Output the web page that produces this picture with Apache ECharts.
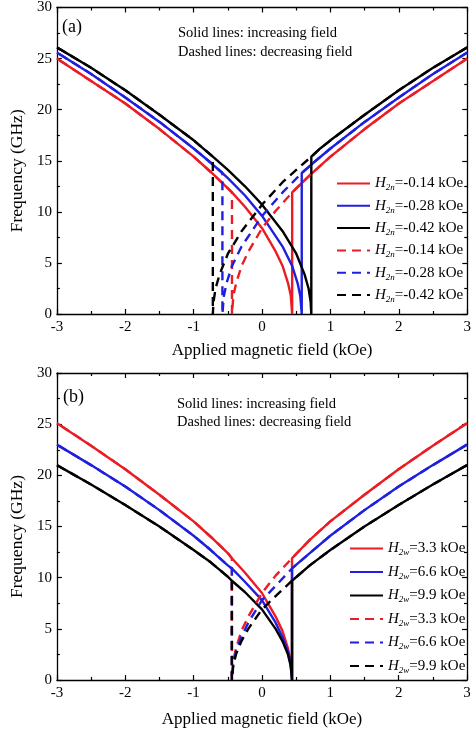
<!DOCTYPE html>
<html lang="en">
<head>
<meta charset="UTF-8">
<title>Frequency vs applied field</title>
<script src="https://cdn.jsdelivr.net/npm/echarts@6/dist/echarts.min.js"></script>
<style>html, body { margin: 0; padding: 0; background: #fff; }</style>
</head>
<body>
<div id="main" style="width:474px;height:730px;"></div>
<script type="text/javascript">
// axis ranges (kOe / GHz)
const fieldRange = [-3, 3];
const fieldStep = 1;
const freqRange = [0, 30];
const freqStep = 5;

// legend values
const labelsA = ['-0.14', '-0.28', '-0.42']; // H2n, kOe
const labelsB = ['3.3', '6.6', '9.9'];       // H2w, kOe
const switchA = [0.44, 0.58, 0.72];          // switching field of each curve, panel (a)
const switchB = [0.44, 0.44, 0.44];          // panel (b)

// panel (a) - "left" branch falls to 0 at +Hsw, "right" branch falls to 0 at -Hsw
const a1LeftH = [-3, -2.5, -2, -1.5, -1, -0.75, -0.5, -0.44, -0.25, 0, 0.2, 0.3, 0.38, 0.42, 0.44];
const a1LeftF = [25.0, 22.8, 20.6, 18.1, 15.4, 13.9, 12.3, 11.9, 10.5, 8.4, 6.1, 4.7, 3.0, 1.8, 0];
const a1RightH = [-0.44, -0.42, -0.38, -0.3, -0.2, 0, 0.2, 0.44, 0.7, 1, 1.5, 2, 2.5, 3];
const a1RightF = [0, 1.8, 3.0, 4.7, 6.1, 8.4, 10.1, 11.9, 13.6, 15.4, 18.1, 20.6, 22.8, 25.0];

const a2LeftH = [-3, -2.5, -2, -1.5, -1, -0.75, -0.58, -0.5, -0.25, 0, 0.3, 0.44, 0.52, 0.56, 0.58];
const a2LeftF = [25.6, 23.5, 21.2, 18.8, 16.2, 14.8, 13.8, 13.3, 11.6, 9.6, 6.6, 4.7, 3.0, 1.7, 0];
const a2RightH = [-0.58, -0.56, -0.52, -0.44, -0.3, 0, 0.3, 0.58, 0.75, 1, 1.5, 2, 2.5, 3];
const a2RightF = [0, 1.7, 3.0, 4.7, 6.6, 9.6, 11.9, 13.8, 14.8, 16.2, 18.8, 21.2, 23.5, 25.6];

const a3LeftH = [-3, -2.5, -2, -1.5, -1, -0.72, -0.5, -0.25, 0, 0.3, 0.5, 0.62, 0.68, 0.71, 0.72];
const a3LeftF = [26.1, 24.1, 21.9, 19.5, 17.0, 15.4, 14.1, 12.5, 10.7, 8.1, 5.9, 3.9, 2.5, 1.2, 0];
const a3RightH = [-0.72, -0.71, -0.68, -0.62, -0.5, -0.3, 0, 0.3, 0.5, 0.72, 0.85, 1, 1.5, 2, 2.5, 3];
const a3RightF = [0, 1.2, 2.5, 3.9, 5.9, 8.1, 10.7, 12.9, 14.1, 15.4, 16.2, 17.0, 19.5, 21.9, 24.1, 26.1];

// panel (b) - all three switch at the same field
const bLeftH = [-3, -2.5, -2, -1.5, -1, -0.75, -0.5, -0.44, -0.25, 0, 0.2, 0.3, 0.38, 0.42, 0.44];
const bRightH = [-0.44, -0.42, -0.38, -0.3, -0.2, 0, 0.2, 0.44, 0.7, 1, 1.5, 2, 2.5, 3];
const b1LeftF = [25.1, 22.9, 20.6, 18.1, 15.5, 14.0, 12.4, 11.9, 10.5, 8.5, 6.2, 4.8, 3.1, 1.8, 0];
const b1RightF = [0, 1.8, 3.1, 4.8, 6.2, 8.5, 10.2, 11.9, 13.7, 15.5, 18.1, 20.6, 22.9, 25.1];
const b2LeftF = [23.0, 21.0, 18.9, 16.6, 14.1, 12.7, 11.2, 10.9, 9.6, 7.8, 5.6, 4.2, 2.8, 1.6, 0];
const b2RightF = [0, 1.6, 2.8, 4.2, 5.6, 7.8, 9.2, 10.9, 12.4, 14.1, 16.6, 18.9, 21.0, 23.0];
const b3LeftF = [21.0, 19.1, 17.1, 15.0, 12.7, 11.5, 10.1, 9.7, 8.6, 6.9, 5.0, 3.8, 2.5, 1.4, 0];
const b3RightF = [0, 1.4, 2.5, 3.8, 5.0, 6.9, 8.2, 9.7, 11.2, 12.7, 15.0, 17.1, 19.1, 21.0];

const colors = ['#ec1c24', '#1f1fe0', '#000000'];
const font = 'Liberation Serif';

function pairs(h, f) { return h.map((x, i) => [x, f[i]]); }
// increasing field: left branch up to Hsw, jump, then right branch
function sweepUp(lh, lf, rh, rf, hs) {
    return pairs(lh, lf).filter(p => p[0] <= hs)
        .concat(pairs(rh, rf).filter(p => p[0] >= hs));
}
// decreasing field: right branch down to -Hsw, jump, then left branch
function sweepDown(lh, lf, rh, rf, hs) {
    return pairs(rh, rf).filter(p => p[0] >= -hs).reverse()
        .concat(pairs(lh, lf).filter(p => p[0] <= -hs).reverse());
}

const curvesA = [
    [a1LeftH, a1LeftF, a1RightH, a1RightF],
    [a2LeftH, a2LeftF, a2RightH, a2RightF],
    [a3LeftH, a3LeftF, a3RightH, a3RightF]];
const curvesB = [
    [bLeftH, b1LeftF, bRightH, b1RightF],
    [bLeftH, b2LeftF, bRightH, b2RightF],
    [bLeftH, b3LeftF, bRightH, b3RightF]];

const series = [];
const legendNames = {};
function addPanel(tag, curves, sw, labels, sub, idx) {
    const names = [];
    ['s', 'd'].forEach(kind => {
        curves.forEach((c, i) => {
            const name = tag + i + kind;
            const data = kind === 's' ? sweepUp(c[0], c[1], c[2], c[3], sw[i])
                                      : sweepDown(c[0], c[1], c[2], c[3], sw[i]);
            series.push({
                name: name, type: 'line', data: data,
                xAxisIndex: idx * 2, yAxisIndex: idx * 2,
                symbol: 'none', showSymbol: false, animation: false,
                lineStyle: { color: colors[i], width: 2.4, type: kind === 's' ? 'solid' : [9, 6] },
                itemStyle: { color: colors[i] }
            });
            legendNames[name] = '{i|H}{s|' + sub + '}{t|=' + labels[i] + ' kOe}';
            names.push(name);
        });
    });
    return names;
}
const namesA = addPanel('A', curvesA, switchA, labelsA, '2n', 0);
const namesB = addPanel('B', curvesB, switchB, labelsB, '2w', 1);

const tickStyle = { color: '#000', width: 1.2 };
function xAxis(grid, pos, namePad, gap) {
    return {
        type: 'value', gridIndex: grid, position: pos,
        min: fieldRange[0], max: fieldRange[1], interval: fieldStep,
        name: pos === 'bottom' ? 'Applied magnetic field (kOe)' : '',
        nameLocation: 'middle', nameGap: gap,
        nameTextStyle: { fontFamily: font, fontSize: 17, color: '#000', padding: namePad },
        axisLine: { onZero: false, lineStyle: { color: '#000', width: 1.3 } },
        axisTick: { inside: true, length: 5, lineStyle: tickStyle },
        minorTick: { show: true, splitNumber: 2, length: 3, lineStyle: tickStyle },
        splitLine: { show: false },
        axisLabel: { show: pos === 'bottom', margin: 6, fontFamily: font, fontSize: 15, color: '#000' }
    };
}
function yAxis(grid, pos) {
    return {
        type: 'value', gridIndex: grid, position: pos,
        min: freqRange[0], max: freqRange[1], interval: freqStep,
        name: pos === 'left' ? 'Frequency (GHz)' : '',
        nameLocation: 'middle', nameGap: 28,
        nameTextStyle: { fontFamily: font, fontSize: 17.5, color: '#000', padding: [0, 20, 0, 0] },
        axisLine: { onZero: false, lineStyle: { color: '#000', width: 1.3 } },
        axisTick: { inside: true, length: 5, lineStyle: tickStyle },
        minorTick: { show: true, splitNumber: 2, length: 3, lineStyle: tickStyle },
        splitLine: { show: false },
        axisLabel: { show: pos === 'left', margin: 5, fontFamily: font, fontSize: 15, color: '#000' }
    };
}

const legendRich = {
    i: { fontFamily: font, fontSize: 15, fontStyle: 'italic', color: '#000' },
    s: { fontFamily: font, fontSize: 9, fontStyle: 'italic', color: '#000', padding: [9, 0, 0, 0] },
    t: { fontFamily: font, fontSize: 15, color: '#000' }
};
function legend(names, left, top, gap) {
    return {
        data: names, orient: 'vertical', left: left, top: top,
        itemWidth: 33, itemHeight: 14, itemGap: gap, padding: 0,
        formatter: n => legendNames[n],
        itemStyle: { opacity: 0 },
        textStyle: { fontFamily: font, fontSize: 15, color: '#000', rich: legendRich },
        selectedMode: false
    };
}

function note(x, y, text, size) {
    return { type: 'text', x: x, y: y,
        style: { text: text, fontFamily: font, fontSize: size, fill: '#000', verticalAlign: 'middle' } };
}

const option = {
    backgroundColor: '#fff',
    animation: false,
    grid: [
        { left: 52, top: 5, width: 419, height: 309 },
        { left: 51, top: 373, width: 416, height: 307 }
    ],
    xAxis: [xAxis(0, 'bottom', [0, 0, 0, 20], 28), xAxis(0, 'top', 0, 0),
            xAxis(1, 'bottom', 0, 31), xAxis(1, 'top', 0, 0)],
    yAxis: [yAxis(0, 'left'), yAxis(0, 'right'), yAxis(1, 'left'), yAxis(1, 'right')],
    legend: [legend(namesA, 336, 176, 5.8), legend(namesB, 349, 541, 7)],
    graphic: [
        note(62, 27, '(a)', 18),
        note(178, 33, 'Solid lines: increasing field', 14.5),
        note(178, 52, 'Dashed lines: decreasing field', 14.5),
        note(63, 397, '(b)', 18),
        note(177, 404, 'Solid lines: increasing field', 14.5),
        note(177, 422, 'Dashed lines: decreasing field', 14.5)
    ],
    series: series
};

let myChart = echarts.init(document.getElementById('main'));
myChart.setOption(option);
</script>
</body>
</html>
